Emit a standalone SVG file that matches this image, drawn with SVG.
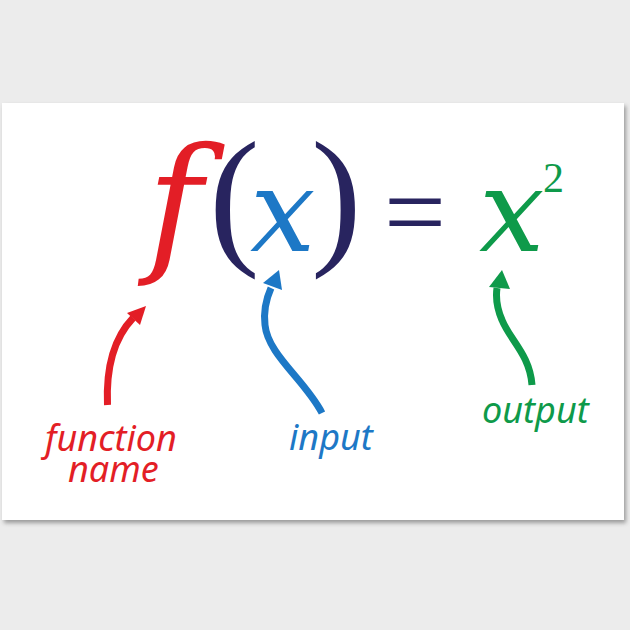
<svg xmlns="http://www.w3.org/2000/svg" width="630" height="630" viewBox="0 0 630 630">
<defs>
<filter id="sh" x="-5%" y="-5%" width="110%" height="115%">
<feDropShadow dx="2" dy="3" stdDeviation="2" flood-color="#000" flood-opacity="0.35"/>
</filter>
<style>
.it{font-family:"DejaVu Serif",serif;font-style:italic}
.rm{font-family:"Liberation Serif",serif;font-size:80px}
.lbl{font-family:"Noto Sans",sans-serif;font-style:italic;font-size:36px}
.red{fill:#e31e26}.navy{fill:#28245f}.blue{fill:#1d78c6}.green{fill:#0e9a4a}
.arr{fill:none;stroke-width:7;stroke-linecap:butt}
</style>
</defs>
<rect width="630" height="630" fill="#ececec"/>
<rect x="2" y="103" width="622" height="417" fill="#fff" filter="url(#sh)"/>
<g id="formula">
<text class="it red" x="147" y="255" font-size="150">f</text>
<text class="rm navy" transform="translate(209,247) scale(1.9)">(</text>
<text class="it blue" x="250" y="251" font-size="116">x</text>
<text class="rm navy" transform="translate(311,247) scale(1.9)">)</text>
<text class="rm navy" transform="translate(384,249) scale(1.375)">=</text>
<text class="it green" x="479" y="251" font-size="116">x</text>
<text class="rm green" x="543" y="192" style="font-size:42px">2</text>
</g>
<g id="label-function">
<text class="lbl red" x="45" y="451">function</text>
<text class="lbl red" x="68" y="482">name</text>
</g>
<g id="label-input">
<text class="lbl blue" x="289" y="450">input</text>
</g>
<g id="label-output">
<text class="lbl green" x="482" y="423">output</text>
</g>
<g id="connectors">
<path class="arr" stroke="#e31e26" d="M107.5,405 C106,370 112,340 133,318"/>
<polygon class="red" points="127,313 146,306 140,325"/>
<path class="arr" stroke="#1d78c6" d="M322,413 C305,380 268,355 265,325 C263,308 267,297 271,288"/>
<polygon class="blue" points="263,283 279,270 282,290"/>
<path class="arr" stroke="#0e9a4a" d="M532,385 C530,355 510,340 502,320 C496,306 496,295 497,288"/>
<polygon class="green" points="489,287 502,270 510,289"/>
</g>
</svg>
